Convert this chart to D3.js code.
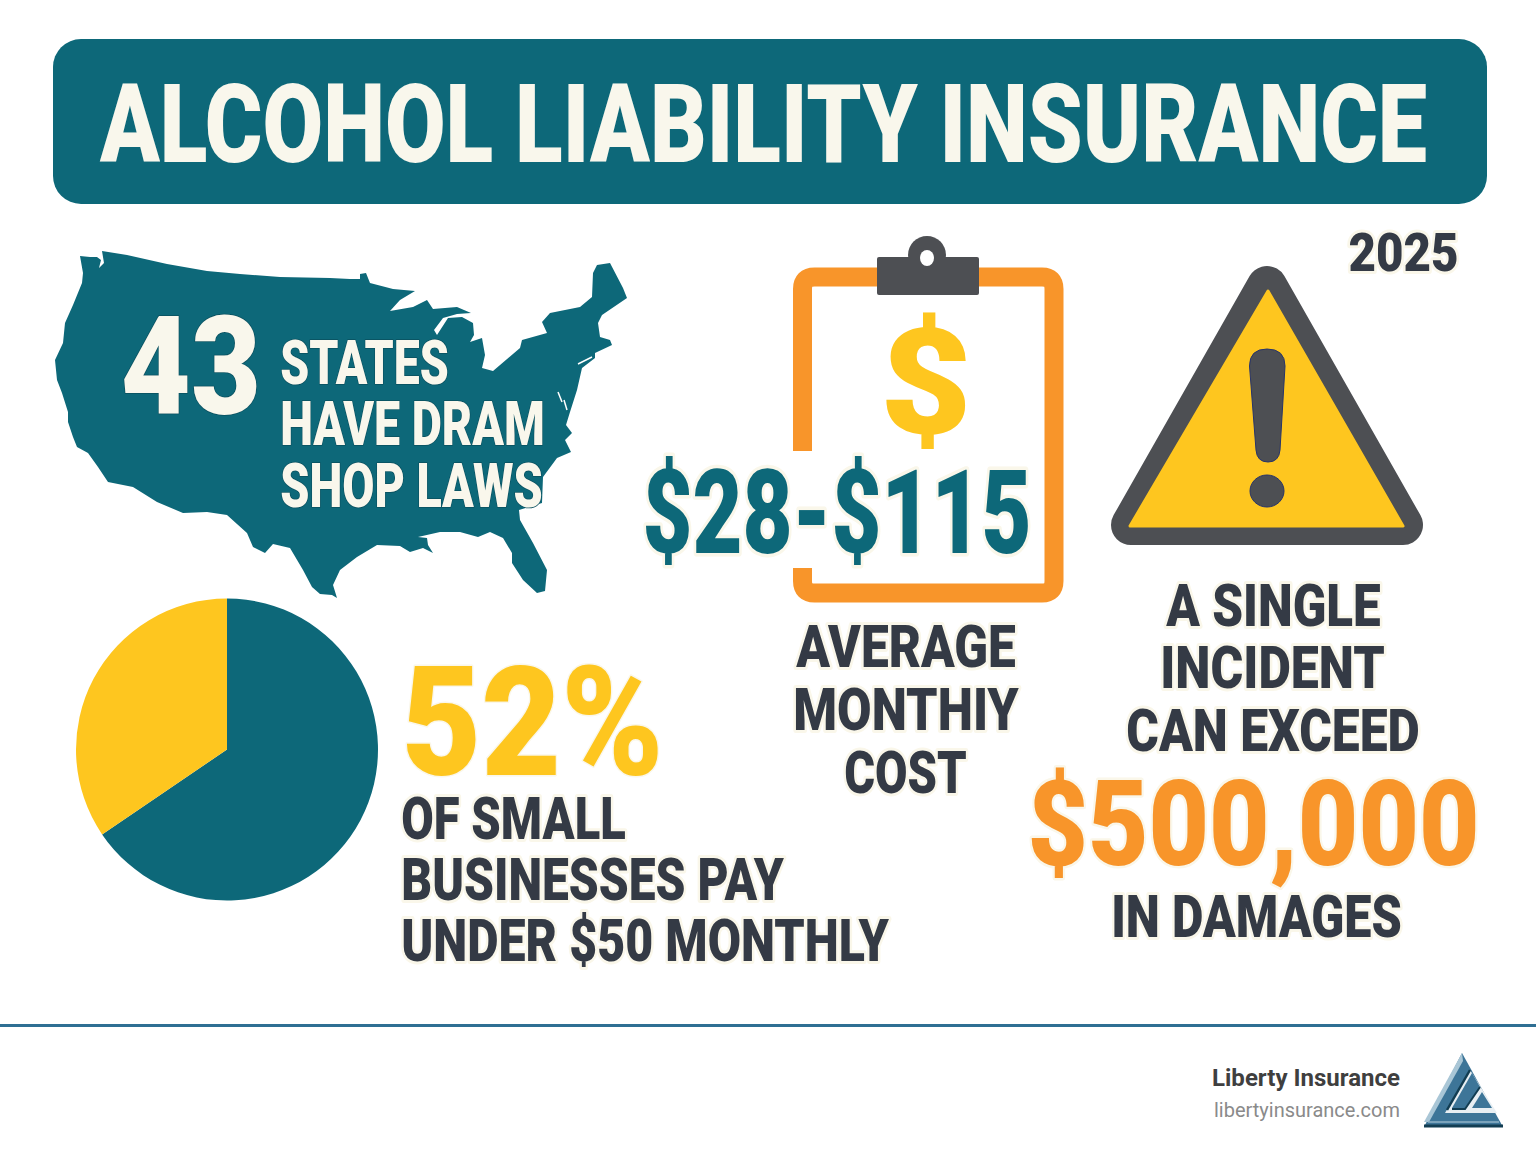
<!DOCTYPE html>
<html>
<head>
<meta charset="utf-8">
<title>Alcohol Liability Insurance</title>
<script src="https://cdn.jsdelivr.net/npm/d3@7"></script>
<style>
  html, body { margin: 0; background: #fff; }
  svg { display: block; }
  text { font-family: Roboto, "Liberation Sans", sans-serif; font-weight: 700; }
  text.heavy { font-weight: 900; }
</style>
</head>
<body>
<svg id="chart" width="1536" height="1154"></svg>
<script>
// Data
const titleText = 'ALCOHOL LIABILITY INSURANCE'
const yearText = '2025'
const pieNames = ['under $50', 'other']
const pieValues = [65.5, 34.5]
const statesCount = '43'
const statesLines = ['STATES', 'HAVE DRAM', 'SHOP LAWS']
const shareValue = '52%'
const shareLines = ['OF SMALL', 'BUSINESSES PAY', 'UNDER $50 MONTHLY']
const costRange = '$28-$115'
const costLines = ['AVERAGE', 'MONTHIY', 'COST']
const incidentLines = ['A SINGLE', 'INCIDENT', 'CAN EXCEED']
const incidentValue = '$500,000'
const incidentTail = 'IN DAMAGES'
const brandName = 'Liberty Insurance'
const brandUrl = 'libertyinsurance.com'

// US outline
const mapOutline = [[102,251],[127,255],[167,264],[207,271],[240,274],[280,277],[330,278],[350,279],[360,279],[360,274],[366,273],[370,283],[393,289],[415,291],
  [400,300],[390,311],[413,307],[427,300],[433,309],[457,307],[471,313],[457,314],[443,318],[434,330],[437,335],[448,318],[462,317],[473,323],[474,335],
  [470,342],[482,338],[485,355],[482,368],[493,371],[520,348],[522,340],[547,333],[542,322],[550,313],[580,307],[592,297],[593,273],[597,265],[610,263],
  [623,288],[627,298],[602,315],[598,323],[600,337],[610,340],[612,345],[595,353],[595,358],[582,368],[577,390],[570,412],[566,425],[572,433],[565,440],
  [571,452],[557,458],[543,477],[542,503],[519,510],[520,520],[533,543],[547,570],[545,591],[537,593],[523,580],[512,563],[512,553],[503,538],[490,532],
  [478,537],[460,532],[440,532],[418,537],[427,538],[428,545],[433,553],[423,548],[410,552],[400,546],[377,545],[357,557],[340,570],[333,585],[337,598],
  [332,595],[320,594],[312,587],[303,570],[290,548],[273,544],[265,553],[253,547],[247,533],[227,515],[207,512],[183,513],[157,502],[133,487],[108,482],
  [98,467],[88,453],[77,447],[73,437],[68,422],[68,412],[62,393],[57,380],[55,360],[63,343],[65,323],[73,305],[82,283],[83,273],[80,256],[90,257],[97,257],
  [101,260],[99,268],[104,263]]
const mapBays = [[[578,364],[592,357]], [[558,392],[562,402]], [[564,400],[567,410]]]

// Colours
const teal = '#0d6879', cream = '#f9f7ec', yellow = '#fec61f', orange = '#f8952a', gray = '#4d4f53', ink = '#343a45', halo = '#faf7ea'

const svg = d3.select('#chart')

// x0, x1: ink width. top, base: cap top and baseline. Squeezed to the box with a scale
function fit(text, [x0, x1, top, base], fill, haloCol, haloW, padK = 0.03) {
    const size = (base - top) / 0.711
    const pad = size * padK
    const t = svg.append('text')
        .text(text)
        .attr('class', 'heavy')
        .attr('font-size', size)
        .attr('fill', fill)
    const k = (x1 - x0 + 2 * pad) / t.node().getComputedTextLength()
    t.attr('transform', `translate(${x0 - pad},${base}) scale(${round(k)},1)`)
    if (haloCol)
        t.attr('stroke', haloCol).attr('stroke-width', haloW).attr('paint-order', 'stroke').attr('stroke-linejoin', 'round')
    return t
}
function round(i) { return +i.toFixed(4) }

/* Banner */
svg.append('rect')
    .attr('x', 53).attr('y', 39).attr('width', 1434).attr('height', 165).attr('rx', 28)
    .attr('fill', teal)
fit(titleText, [100, 1427, 84, 162], cream, null, 0, 0)

/* Map */
svg.append('path')
    .attr('d', d3.line()(mapOutline) + 'Z')
    .attr('fill', teal)
svg.selectAll('.bay').data(mapBays).enter()
    .append('path')
    .attr('class', 'bay')
    .attr('d', d3.line())
    .attr('fill', 'none').attr('stroke', '#fff').attr('stroke-width', 1.5)
fit(statesCount, [125, 257, 316, 414], cream, '#0a4f5e', 1.5)
const statesBoxes = [[282, 447, 341, 384], [282, 543, 402, 445], [282, 541, 464, 507]]
statesLines.forEach((l, i) => fit(l, statesBoxes[i], cream, '#0a4f5e', 1.5))

/* Pie */
const pieG = svg.append('g').attr('transform', 'translate(227,749.5)')
const arc = d3.arc().innerRadius(0).outerRadius(151)
const pieCol = d3.scaleOrdinal().domain(pieNames).range([teal, yellow])
pieG.selectAll('path').data(d3.pie().sort(null)(pieValues)).enter()
    .append('path')
    .attr('d', arc)
    .attr('fill', (d, i) => pieCol(pieNames[i]))
fit(shareValue, [406, 659, 667, 775], yellow, halo, 3)
const shareBoxes = [[403, 624, 797, 839], [403, 782, 858, 900], [403, 887, 919, 961]]
shareLines.forEach((l, i) => fit(l, shareBoxes[i], ink, halo, 6))

/* Clipboard */
svg.append('path')
    .attr('d', 'M802.5,451 V289 Q802.5,277 814.5,277 H1042 Q1054,277 1054,289 V581 Q1054,593 1042,593 H814.5 Q802.5,593 802.5,581 V568')
    .attr('fill', 'none').attr('stroke', orange).attr('stroke-width', 19)
svg.append('circle').attr('cx', 927).attr('cy', 255).attr('r', 19).attr('fill', gray)
svg.append('rect')
    .attr('x', 877).attr('y', 257).attr('width', 102).attr('height', 38).attr('rx', 2)
    .attr('fill', gray)
svg.append('ellipse').attr('cx', 927).attr('cy', 258).attr('rx', 7).attr('ry', 8).attr('fill', '#fff')
svg.append('text')
    .text('$')
    .attr('class', 'heavy')
    .attr('x', 880).attr('y', 433)
    .attr('font-size', 146)
    .attr('fill', yellow)
    .attr('textLength', 92).attr('lengthAdjust', 'spacingAndGlyphs')
fit(costRange, [646, 1028, 470, 553], teal, halo, 7)
const costBoxes = [[798, 1014, 625, 667], [795, 1017, 688, 730], [846, 965, 751, 793]]
costLines.forEach((l, i) => fit(l, costBoxes[i], ink, halo, 6))

/* Warning sign */
svg.append('path')
    .attr('d', 'M1267,286 L1403,525 L1131,525 Z')
    .attr('fill', gray).attr('stroke', gray).attr('stroke-width', 40).attr('stroke-linejoin', 'round')
svg.append('path')
    .attr('d', 'M1268,291 L1403,526 L1130,526 Z')
    .attr('fill', yellow).attr('stroke', yellow).attr('stroke-width', 3).attr('stroke-linejoin', 'round')
svg.append('path')
    .attr('d', 'M1249.5,366 Q1249.5,349 1267,349 Q1285,349 1285,366 L1280,450 Q1279,462 1268,462 Q1257,462 1256,450 Z')
    .attr('fill', gray).attr('stroke', '#27346b').attr('stroke-width', 1)
svg.append('ellipse')
    .attr('cx', 1267).attr('cy', 491).attr('rx', 17).attr('ry', 16)
    .attr('fill', gray).attr('stroke', '#27346b').attr('stroke-width', 1)
fit(yearText, [1350, 1457, 233, 271], ink, halo, 6)
const incidentBoxes = [[1168, 1379, 584, 626], [1162, 1383, 646, 688], [1128, 1418, 709, 751]]
incidentLines.forEach((l, i) => fit(l, incidentBoxes[i], ink, halo, 6))
fit(incidentValue, [1031, 1476, 780, 865], orange, halo, 5)
fit(incidentTail, [1113, 1400, 895, 937], ink, halo, 6)

/* Footer */
svg.append('rect').attr('x', 0).attr('y', 1024).attr('width', 1536).attr('height', 3).attr('fill', '#2f6f93')
svg.append('text').text(brandName)
    .attr('x', 1212).attr('y', 1086).attr('font-size', 24).attr('fill', '#3f3f3f')
    .attr('textLength', 188).attr('lengthAdjust', 'spacingAndGlyphs')
svg.append('text').text(brandUrl)
    .attr('x', 1214).attr('y', 1117).attr('font-size', 21).attr('fill', '#8a8a8a').style('font-weight', 400)
    .attr('textLength', 186).attr('lengthAdjust', 'spacingAndGlyphs')

/* Logo */
const logo = svg.append('g')
const logoPart = (d, fill) => logo.append('path').attr('d', d).attr('fill', fill)
const logoLine = (d, col, w) => logo.append('path').attr('d', d).attr('fill', 'none').attr('stroke', col).attr('stroke-width', w)
logoPart('M1462,1053 L1503,1127 L1424,1127 Z', '#3d7598')
logoPart('M1462,1053 L1424,1122 L1429,1122 L1463,1061 Z', '#a9c6d6')
logoPart('M1470,1070 L1445,1113 L1497,1113 Z', '#e8eff3')
logoPart('M1472,1073 L1480,1087 L1465,1108 L1452,1108 Z', '#3d7598')
logoPart('M1482,1092 L1492,1108 L1472,1108 Z', '#3d7598')
logoLine('M1470,1070 L1447,1110', '#123d52', 2.5)
logoLine('M1480,1087 L1465,1109 L1452,1109', '#123d52', 2)
logoLine('M1424,1126 L1503,1126', '#123d52', 3)
logoLine('M1428,1122 L1499,1122', '#8fb2c6', 1.5)
</script>
</body>
</html>
